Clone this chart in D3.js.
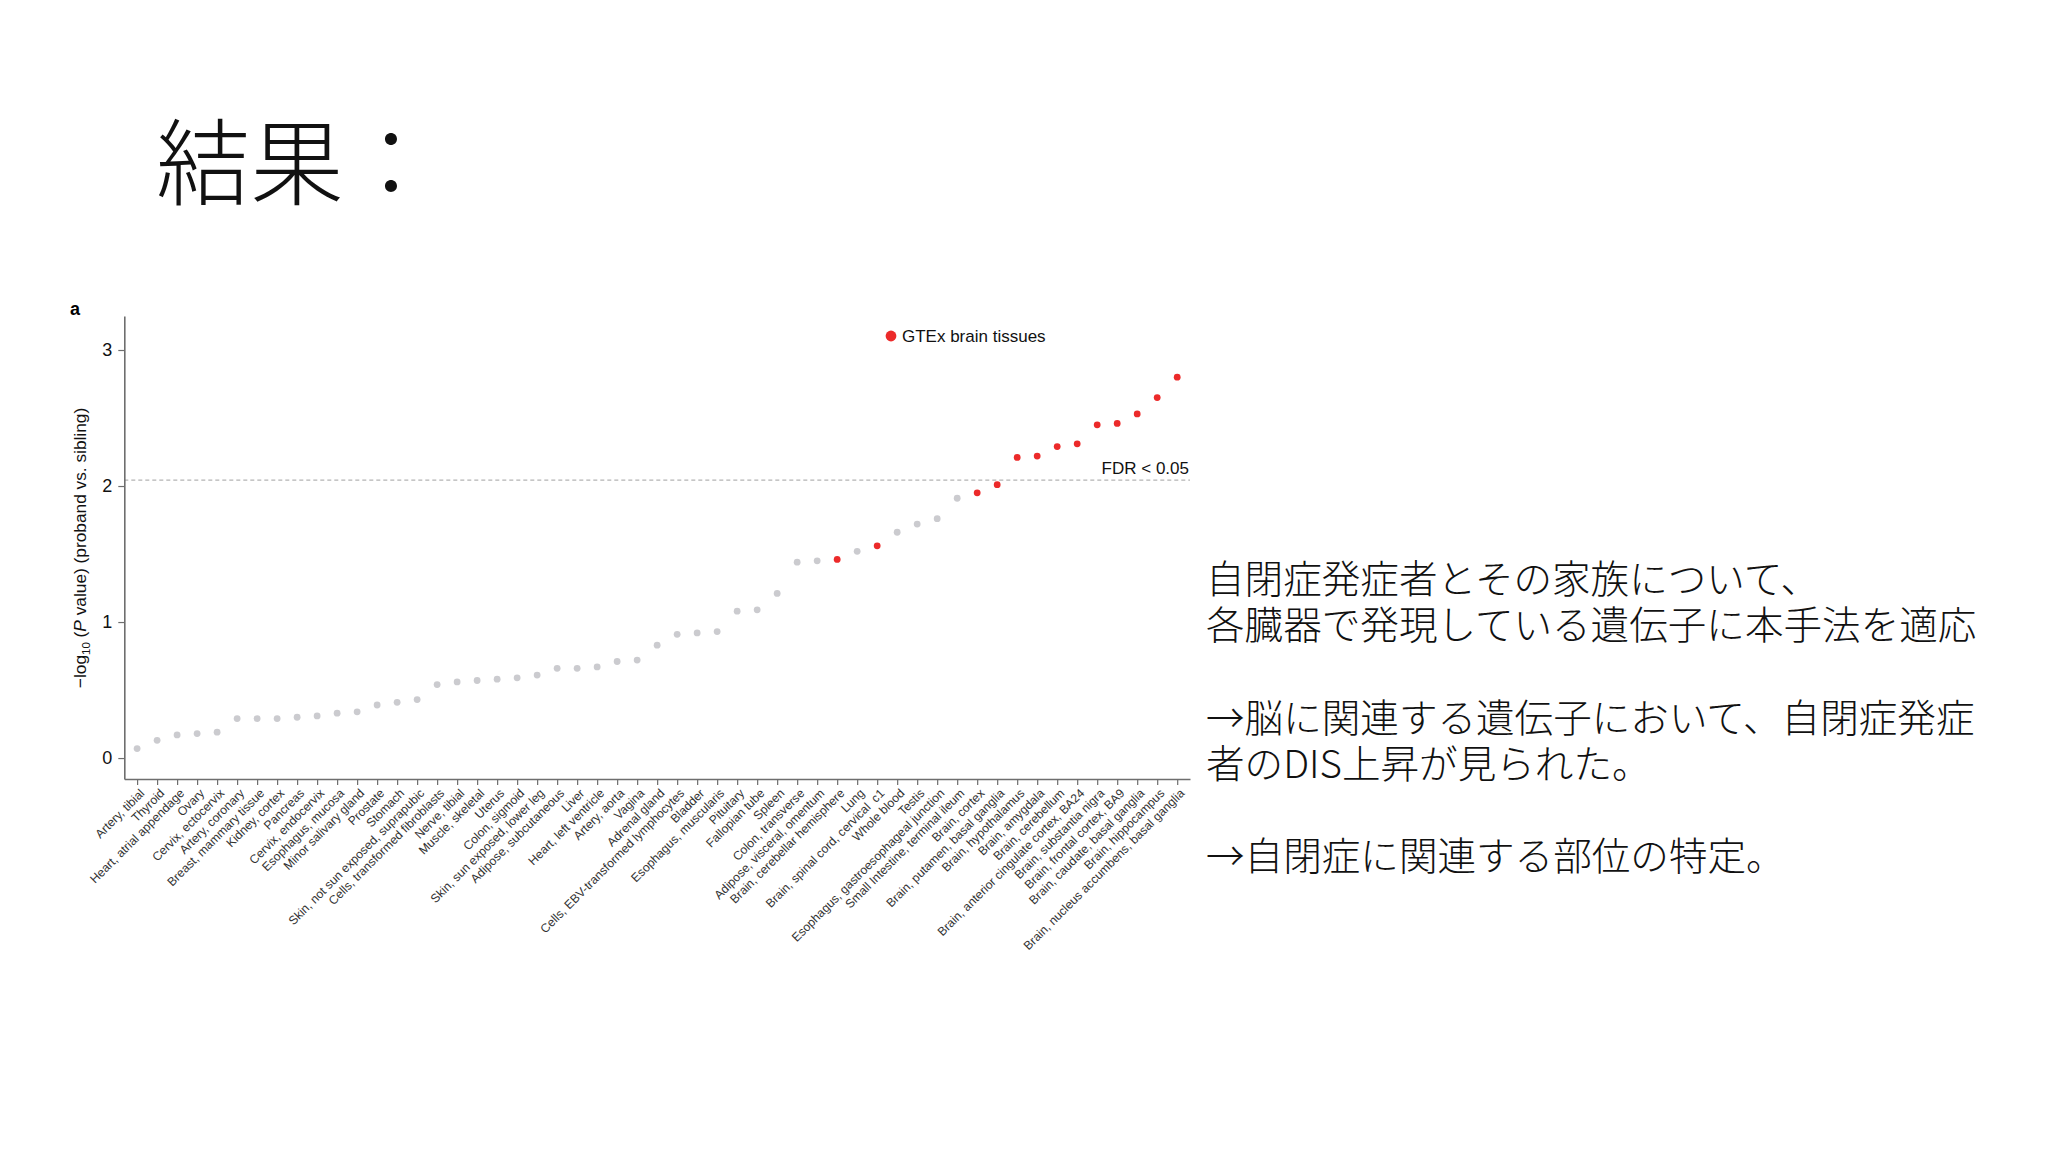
<!DOCTYPE html>
<html>
<head>
<meta charset="utf-8">
<script src="https://cdn.jsdelivr.net/npm/d3@7"></script>
<style>
  body { margin: 0; background: #fff; }
  svg { display: block; }
  .jp { font-family: "Noto Sans CJK JP", sans-serif; font-weight: 300; fill: #111; }
  .plot text { font-family: "Liberation Sans", Arial, sans-serif; }
</style>
</head>
<body>
<svg id="slide" width="2048" height="1152"></svg>
<script>
// tissues in plotted order (sorted by -log10 P)
const tissues = [
  "Artery, tibial", "Thyroid", "Heart, atrial appendage", "Ovary", "Cervix, ectocervix",
  "Artery, coronary", "Breast, mammary tissue", "Kidney, cortex", "Pancreas", "Cervix, endocervix",
  "Esophagus, mucosa", "Minor salivary gland", "Prostate", "Stomach", "Skin, not sun exposed, suprapubic",
  "Cells, transformed fibroblasts", "Nerve, tibial", "Muscle, skeletal", "Uterus", "Colon, sigmoid",
  "Skin, sun exposed, lower leg", "Adipose, subcutaneous", "Liver", "Heart, left ventricle", "Artery, aorta",
  "Vagina", "Adrenal gland", "Cells, EBV-transformed lymphocytes", "Bladder", "Esophagus, muscularis",
  "Pituitary", "Fallopian tube", "Spleen", "Colon, transverse", "Adipose, visceral, omentum",
  "Brain, cerebellar hemisphere", "Lung", "Brain, spinal cord, cervical  c1", "Whole blood", "Testis",
  "Esophagus, gastroesophageal junction", "Small Intestine, terminal ileum", "Brain, cortex",
  "Brain, putamen, basal ganglia", "Brain, hypothalamus", "Brain, amygdala", "Brain, cerebellum",
  "Brain, anterior cingulate cortex, BA24", "Brain, substantia nigra", "Brain, frontal cortex, BA9",
  "Brain, caudate, basal ganglia", "Brain, hippocampus", "Brain, nucleus accumbens, basal ganglia"
];

// -log10(P value), proband vs. sibling
const logP = [
  0.07, 0.13, 0.17, 0.18, 0.19, 0.29, 0.29, 0.29, 0.30, 0.31,
  0.33, 0.34, 0.39, 0.41, 0.43, 0.54, 0.56, 0.57, 0.58, 0.59,
  0.61, 0.66, 0.66, 0.67, 0.71, 0.72, 0.83, 0.91, 0.92, 0.93,
  1.08, 1.09, 1.21, 1.44, 1.45, 1.46, 1.52, 1.56, 1.66, 1.72,
  1.76, 1.91, 1.95, 2.01, 2.21, 2.22, 2.29, 2.31, 2.45, 2.46,
  2.53, 2.65, 2.80
];

const brainTissues = tissues.filter(t => t.startsWith("Brain"));
const yTicks = [0, 1, 2, 3];
const fdrCutoff = 2.044;

const titleText = "結果：";
const bodyLines = [
  "自閉症発症者とその家族について、",
  "各臓器で発現している遺伝子に本手法を適応",
  "",
  "→脳に関連する遺伝子において、自閉症発症",
  "者のDIS上昇が見られた。",
  "",
  "→自閉症に関連する部位の特定。"
];

const svg = d3.select("#slide");

// slide title
svg.append("text")
  .attr("class", "jp")
  .attr("x", 156)
  .attr("y", 198)
  .style("font-size", "94px")
  .text(titleText);

// body text on the right
svg.append("text")
  .attr("class", "jp")
  .style("font-size", "38.6px")
  .selectAll("tspan")
  .data(bodyLines)
  .join("tspan")
  .attr("x", 1206)
  .attr("y", (d, i) => 593 + i * 46.2)
  .text(d => d);

// ---- plot ----
const x = d3.scalePoint()
  .domain(tissues)
  .range([124.3, 1190])
  .padding(0.64);

const y = d3.scaleLinear()
  .domain([-0.154, 3.25])
  .range([779, 316]);

const plot = svg.append("g").attr("class", "plot");

// panel letter
plot.append("text")
  .attr("x", 70)
  .attr("y", 315)
  .style("font-size", "18px")
  .style("font-weight", "bold")
  .text("a");

// FDR threshold
plot.append("line")
  .attr("x1", x.range()[0])
  .attr("x2", x.range()[1])
  .attr("y1", y(fdrCutoff))
  .attr("y2", y(fdrCutoff))
  .attr("stroke", "#b4b4b4")
  .attr("stroke-width", 1.2)
  .attr("stroke-dasharray", "4,3");

plot.append("text")
  .attr("x", 1189)
  .attr("y", y(fdrCutoff) - 6)
  .attr("text-anchor", "end")
  .style("font-size", "17px")
  .attr("fill", "#111")
  .text("FDR < 0.05");

// axes
const yAxis = plot.append("g")
  .attr("transform", `translate(${x.range()[0]},0)`)
  .call(d3.axisLeft(y).tickValues(yTicks).tickFormat(d3.format("d"))
    .tickSize(6).tickSizeOuter(0).tickPadding(6));
yAxis.select(".domain").attr("stroke", "#6e6e6e").attr("stroke-width", 1.6);
yAxis.selectAll(".tick line").attr("stroke", "#6e6e6e").attr("stroke-width", 1.2);
yAxis.selectAll(".tick text")
  .style("font-size", "18px")
  .attr("fill", "#111");

const xAxis = plot.append("g")
  .attr("transform", `translate(0,${y.range()[0]})`)
  .call(d3.axisBottom(x).tickSize(6).tickSizeOuter(0).tickFormat(""));
xAxis.select(".domain").attr("stroke", "#6e6e6e").attr("stroke-width", 1.6);
xAxis.selectAll(".tick line").attr("stroke", "#6e6e6e").attr("stroke-width", 1.2);

// rotated tissue labels
plot.append("g")
  .selectAll("text")
  .data(tissues)
  .join("text")
  .attr("transform", d => `translate(${x(d) + 5},${y.range()[0] + 12}) rotate(-45)`)
  .attr("text-anchor", "end")
  .attr("dy", "0.35em")
  .style("font-size", "12.2px")
  .attr("fill", "#333")
  .style("white-space", "pre")
  .text(d => d);

// y axis title
const yTitle = plot.append("text")
  .attr("transform", `translate(86,548) rotate(-90)`)
  .attr("text-anchor", "middle")
  .style("font-size", "17.3px")
  .attr("fill", "#111");
yTitle.append("tspan").text("\u2212log");
yTitle.append("tspan").attr("dy", 4).style("font-size", "11.5px").text("10");
yTitle.append("tspan").attr("dy", -4).text(" (");
yTitle.append("tspan").style("font-style", "italic").text("P");
yTitle.append("tspan").text(" value) (proband vs. sibling)");

// dots
plot.append("g")
  .selectAll("circle")
  .data(tissues)
  .join("circle")
  .attr("cx", d => x(d))
  .attr("cy", (d, i) => y(logP[i]))
  .attr("r", 3.4)
  .attr("fill", d => brainTissues.includes(d) ? "#ec2a2a" : "#cbcbcf");

// legend
const legend = plot.append("g");
legend.append("circle")
  .attr("cx", 891)
  .attr("cy", 336)
  .attr("r", 5.4)
  .attr("fill", "#ec2a2a");
legend.append("text")
  .attr("x", 902)
  .attr("y", 342)
  .style("font-size", "17px")
  .attr("fill", "#111")
  .text("GTEx brain tissues");
</script>
</body>
</html>
